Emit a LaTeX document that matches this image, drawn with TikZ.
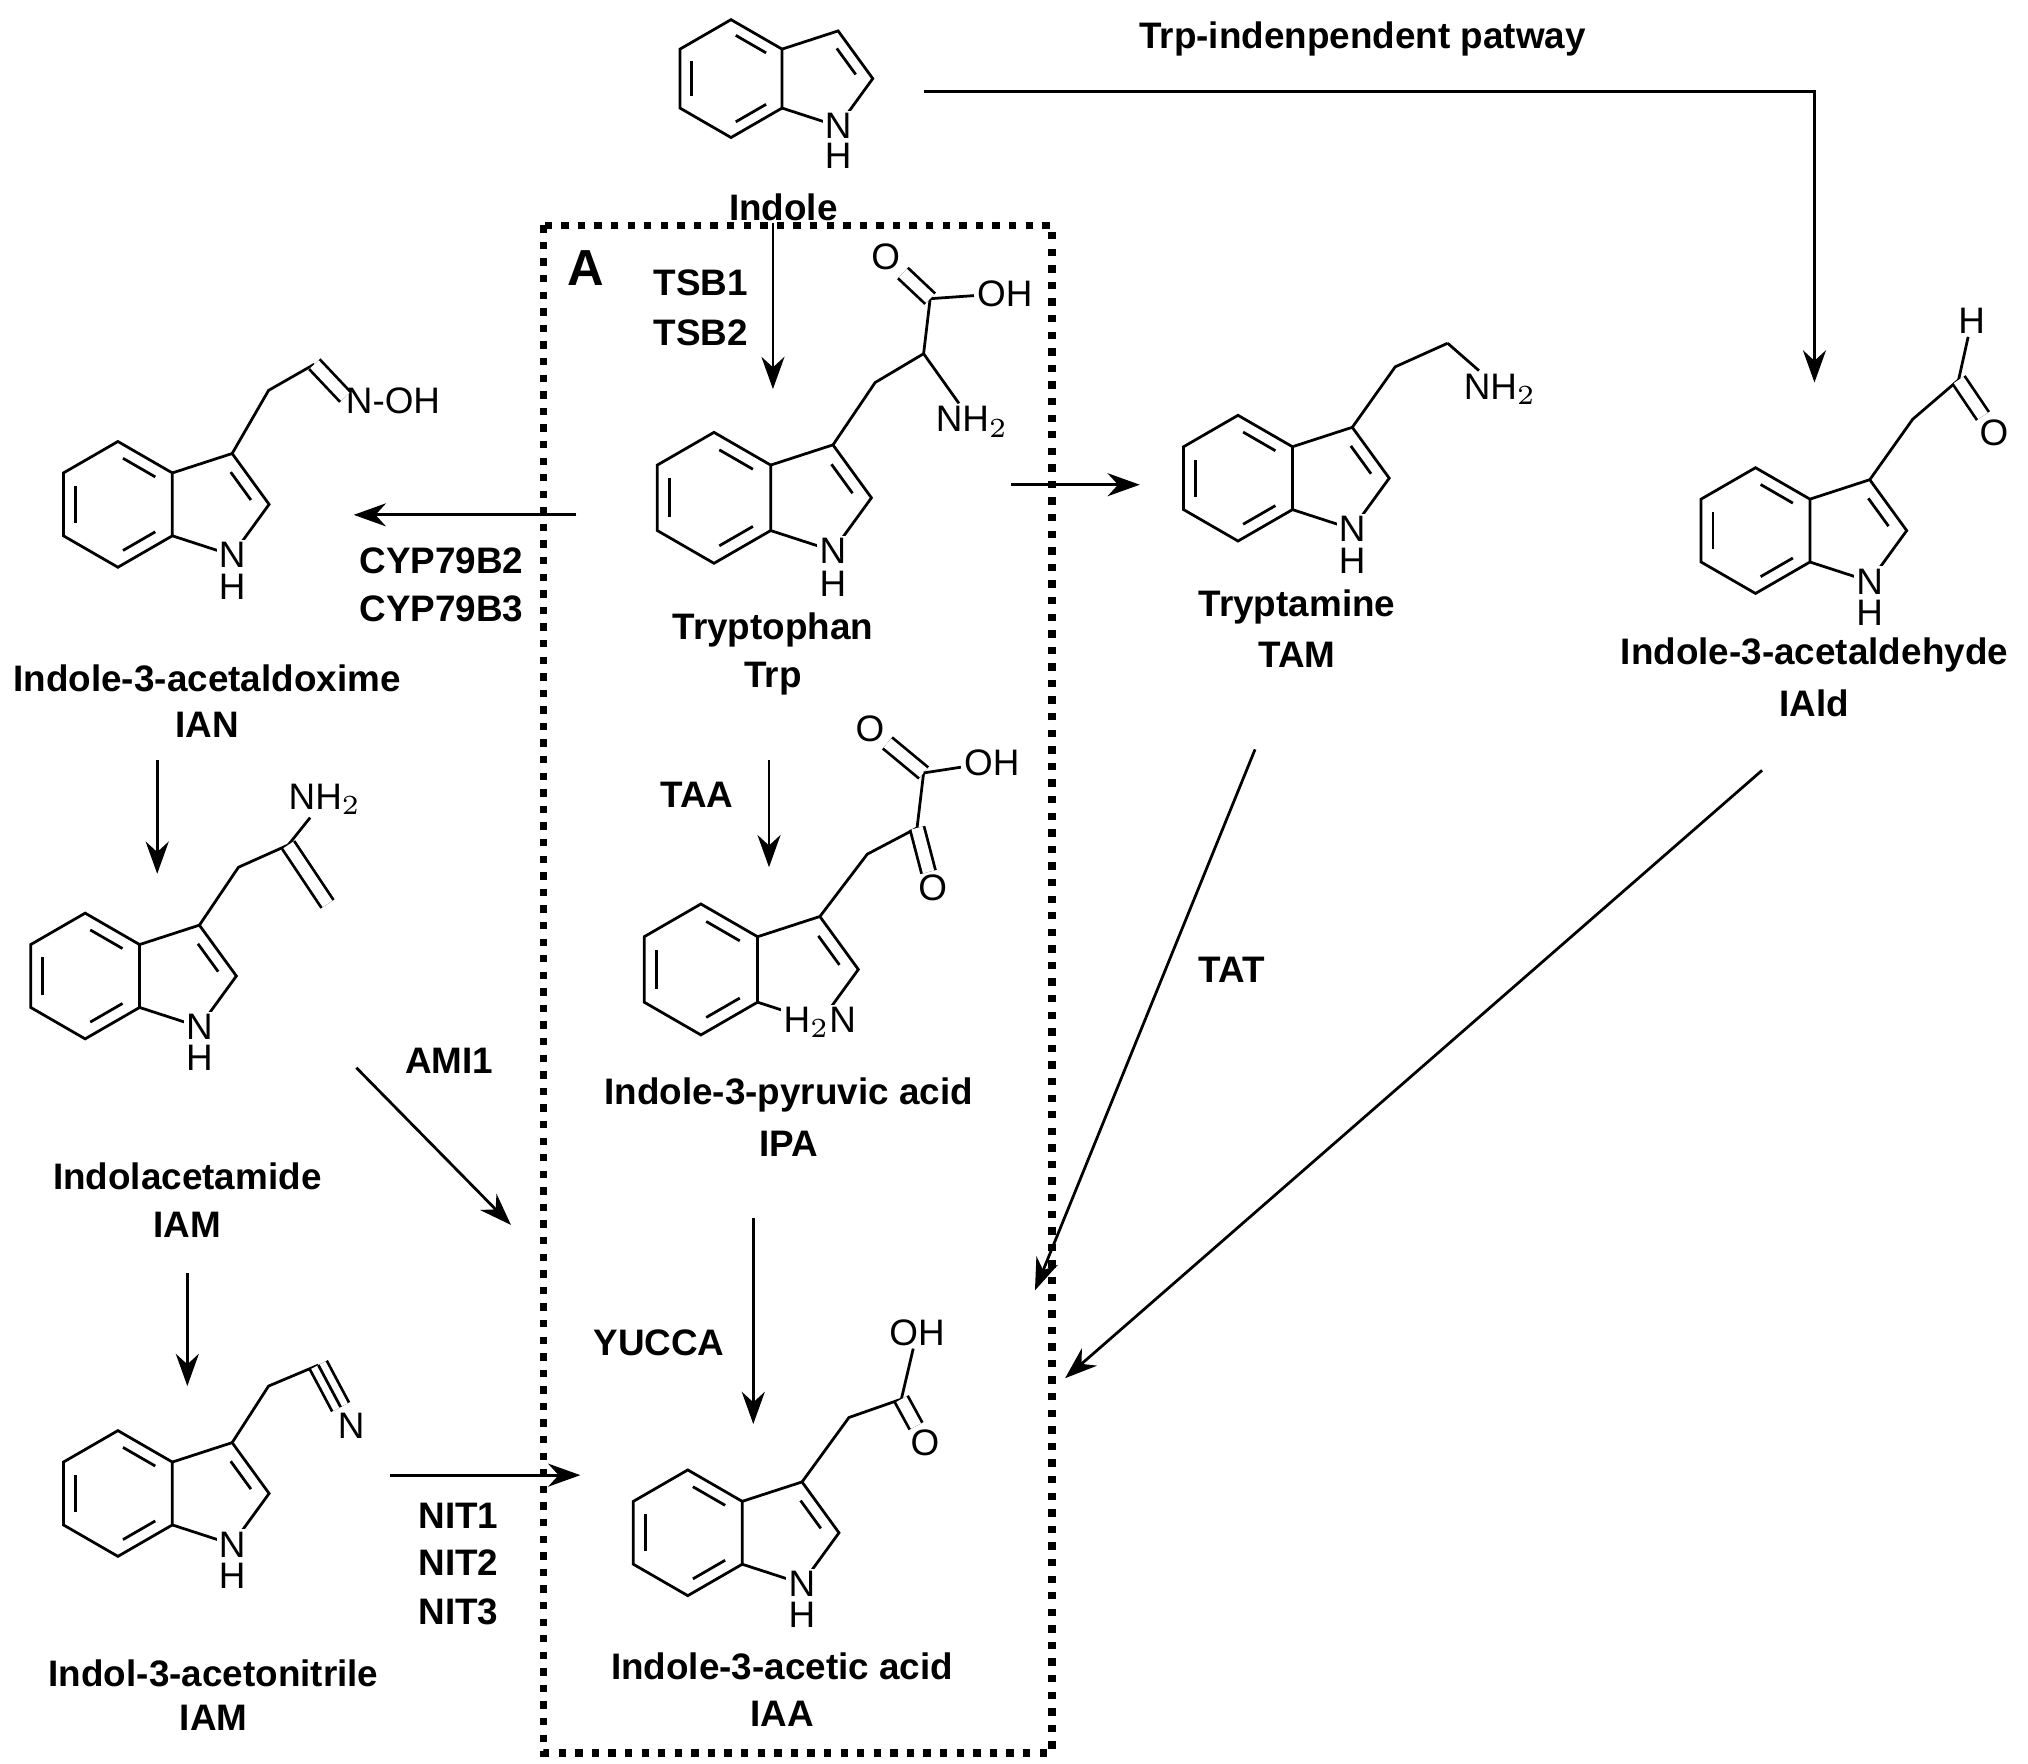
\documentclass[tikz,border=0pt]{standalone}
\usepackage{fontspec}
\setmainfont{Liberation Sans}
\usetikzlibrary{arrows.meta,calc}

\newcommand{\indole}[6]{%
  \begin{scope}[shift={(#2,#3)},scale=#4]
    \coordinate (#1v1) at (0,-1);      \coordinate (#1v2) at (0.866,-0.5);
    \coordinate (#1v3) at (0.866,0.5); \coordinate (#1v4) at (0,1);
    \coordinate (#1v5) at (-0.866,0.5);\coordinate (#1v6) at (-0.866,-0.5);
    \coordinate (#1c3) at (1.817,-0.809);
    \coordinate (#1c2) at (2.405,0);
    \coordinate (#1n) at (1.817,0.809);
    \draw[bond] (#1v1) -- (#1v2) -- (#1v3) -- (#1v4) -- (#1v5) -- (#1v6) -- cycle;
    \draw[bond] (#1v2) -- (#1c3) -- (#1c2) -- (#1n) -- (#1v3);
    % inner double bonds
    \foreach \a/\b in {v1/v2,v3/v4,v5/v6}
      \draw[bond] ($(0,0)!0.78!($(#1\a)!0.12!(#1\b)$)$) -- ($(0,0)!0.78!($(#1\b)!0.12!(#1\a)$)$);
    \draw[bond] ($(1.554,0)!0.72!($(#1c3)!0.12!(#1c2)$)$) -- ($(1.554,0)!0.72!($(#1c2)!0.12!(#1c3)$)$);
    \node[atom,fill=white] at (#1n) {#5};
    \node[atom] at ($(#1n)+(0,0.5)$) {#6};
  \end{scope}}

\tikzset{
  bond/.style={line width=0.6pt},
  atom/.style={font=\fontsize{8}{9}\selectfont,inner sep=0.5pt},
  lbl/.style={font=\fontsize{8}{9}\selectfont\bfseries,inner sep=0pt},
  rx/.style={line width=0.6pt,-{Stealth[length=7pt,width=5pt]}},
}

\begin{document}
\begin{tikzpicture}[x=0.01cm,y=-0.01cm]
  \useasboundingbox (0,0) rectangle (1548,1346);

  % Indole
  \indole{ind}{558}{60}{45}{N}{H}
  \node[lbl] (indole) at (598,158) {Indole};
  \node[lbl] (title) at (1040,30) {Trp-indenpendent patway};

  % box A
  \draw[line width=1.6pt,dotted] (415,172) rectangle (803,1338);
  \node[lbl,font=\fontsize{11}{12}\selectfont\bfseries] (boxA) at (447,205) {A};

  % Tryptophan
  \indole{trp}{545}{380}{50}{N}{H}
  \coordinate (trp1) at (668,292); \coordinate (trp2) at (705,270);
  \coordinate (trp3) at (710,228);
  \draw[bond] (trpc3) -- (trp1) -- (trp2) -- (trp3);
  \node[atom] (trpO) at (676,196) {O};
  \node[atom] (trpOH) at (767,224) {OH};
  \node[atom] (trpNH) at (742,322) {NH$_2$};
  \draw[bond] (trp3) -- (trpOH);
  \draw[bond] (trp2) -- (trpNH);
  \draw[bond,double distance=2.5pt] (trp3) -- (trpO);
  \node[lbl] (trpA) at (590,481) {Tryptophan};
  \node[lbl] (trpB) at (590,518) {Trp};

  % IAN
  \indole{ian}{90}{385}{48}{N}{H}
  \coordinate (ian1) at (205,298); \coordinate (ian2) at (240,278);
  \draw[bond] (ianc3) -- (ian1) -- (ian2);
  \node[atom] (ianN) at (300,306) {N-OH};
  \draw[bond,double distance=2.5pt] (ian2) -- ($(ianN.west)+(2,-3)$);
  \node[lbl] (ianA) at (158,518) {Indole-3-acetaldoxime};
  \node[lbl] (ianB) at (158,553) {IAN};

  % IAM
  \indole{iam}{65}{745}{48}{N}{H}
  \coordinate (iam1) at (182,662); \coordinate (iam2) at (220,645);
  \coordinate (iam3) at (250,690);
  \draw[bond] (iamc3) -- (iam1) -- (iam2);
  \node[atom] (iamNH) at (248,610) {NH$_2$};
  \draw[bond] (iam2) -- (iamNH);
  \draw[bond,double distance=2.5pt] (iam2) -- (iam3);
  \node[lbl] (iamA) at (143,898) {Indolacetamide};
  \node[lbl] (iamB) at (143,935) {IAM};

  % nitrile
  \indole{nit}{90}{1140}{48}{N}{H}
  \coordinate (nit1) at (205,1058); \coordinate (nit2) at (243,1042);
  \coordinate (nit3) at (260,1074);
  \draw[bond] (nitc3) -- (nit1) -- (nit2);
  \node[atom] (nitN) at (268,1088) {N};
  \draw[bond,double distance=3.5pt] (nit2) -- (nit3);
  \draw[bond] (nit2) -- (nit3);
  \node[lbl] (nitA) at (163,1277) {Indol-3-acetonitrile};
  \node[lbl] (nitB) at (163,1311) {IAM};

  % IPA
  \indole{ipa}{535}{740}{50}{H$_2$N}{}
  \coordinate (ipa1) at (662,652); \coordinate (ipa2) at (700,632);
  \coordinate (ipa3) at (705,590);
  \draw[bond] (ipac3) -- (ipa1) -- (ipa2) -- (ipa3);
  \node[atom] (ipaO1) at (712,678) {O};
  \node[atom] (ipaO2) at (664,556) {O};
  \node[atom] (ipaOH) at (757,582) {OH};
  \draw[bond,double distance=2.5pt] (ipa2) -- (ipaO1);
  \draw[bond,double distance=2.5pt] (ipa3) -- (ipaO2);
  \draw[bond] (ipa3) -- (ipaOH);
  \node[lbl] (ipaA) at (602,836) {Indole-3-pyruvic acid};
  \node[lbl] (ipaB) at (602,873) {IPA};

  % IAA
  \indole{iaa}{525}{1170}{48}{N}{H}
  \coordinate (iaa1) at (648,1082); \coordinate (iaa2) at (688,1068);
  \draw[bond] (iaac3) -- (iaa1) -- (iaa2);
  \node[atom] (iaaOH) at (700,1017) {OH};
  \node[atom] (iaaO) at (706,1101) {O};
  \draw[bond] (iaa2) -- (iaaOH);
  \draw[bond,double distance=2.5pt] (iaa2) -- (iaaO);
  \node[lbl] (iaaA) at (597,1272) {Indole-3-acetic acid};
  \node[lbl] (iaaB) at (597,1308) {IAA};

  % Tryptamine
  \indole{tam}{945}{365}{48}{N}{H}
  \coordinate (tam1) at (1065,280); \coordinate (tam2) at (1105,262);
  \draw[bond] (tamc3) -- (tam1) -- (tam2);
  \node[atom] (tamNH) at (1145,297) {NH$_2$};
  \draw[bond] (tam2) -- (tamNH);
  \node[lbl] (tamA) at (990,463) {Tryptamine};
  \node[lbl] (tamB) at (990,500) {TAM};

  % IAld
  \indole{ald}{1340}{405}{48}{N}{H}
  \coordinate (ald1) at (1460,320); \coordinate (ald2) at (1495,290);
  \draw[bond] (aldc3) -- (ald1) -- (ald2);
  \node[atom] (aldH) at (1505,245) {H};
  \node[atom] (aldO) at (1522,330) {O};
  \draw[bond] (ald2) -- (aldH);
  \draw[bond,double distance=2.5pt] (ald2) -- (aldO);
  \node[lbl] (aldA) at (1385,500) {Indole-3-acetaldehyde};
  \node[lbl] (aldB) at (1385,537) {IAld};

  % reactions
  \coordinate (c1) at (705,70); \coordinate (c2) at (1385,70); \coordinate (c3) at (1385,292);
  \draw[rx] (c1) -- (c2) -- (c3);
  \coordinate (c4) at (590,170); \coordinate (c5) at (590,297);
  \draw[rx] (c4) -- (c5);
  \node[lbl] (tsb1) at (535,216) {TSB1};
  \node[lbl] (tsb2) at (535,254) {TSB2};
  \coordinate (c6) at (440,393); \coordinate (c7) at (270,393);
  \draw[rx] (c6) -- (c7);
  \node[lbl] (cyp1) at (337,428) {CYP79B2};
  \node[lbl] (cyp2) at (337,465) {CYP79B3};
  \coordinate (c8) at (772,370); \coordinate (c9) at (870,370);
  \draw[rx] (c8) -- (c9);
  \coordinate (c10) at (120,580); \coordinate (c11) at (120,667);
  \draw[rx] (c10) -- (c11);
  \coordinate (c12) at (143,972); \coordinate (c13) at (143,1058);
  \draw[rx] (c12) -- (c13);
  \coordinate (c14) at (587,580); \coordinate (c15) at (587,662);
  \draw[rx] (c14) -- (c15);
  \node[lbl] (taa) at (532,607) {TAA};
  \coordinate (c16) at (575,930); \coordinate (c17) at (575,1087);
  \draw[rx] (c16) -- (c17);
  \node[lbl] (yucca) at (503,1025) {YUCCA};
  \coordinate (c18) at (272,815); \coordinate (c19) at (390,935);
  \draw[rx] (c18) -- (c19);
  \node[lbl] (ami) at (343,810) {AMI1};
  \coordinate (c20) at (298,1126); \coordinate (c21) at (443,1126);
  \draw[rx] (c20) -- (c21);
  \node[lbl] (nit1l) at (350,1157) {NIT1};
  \node[lbl] (nit2l) at (350,1193) {NIT2};
  \node[lbl] (nit3l) at (350,1230) {NIT3};
  \coordinate (c22) at (958,572); \coordinate (c23) at (790,985);
  \draw[rx] (c22) -- (c23);
  \node[lbl] (tat) at (940,740) {TAT};
  \coordinate (c24) at (1345,588); \coordinate (c25) at (813,1052);
  \draw[rx] (c24) -- (c25);
\end{tikzpicture}
\end{document}
